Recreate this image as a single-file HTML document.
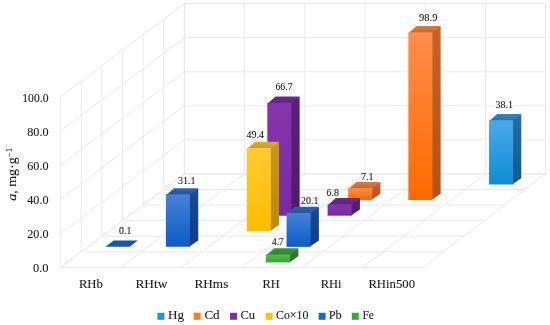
<!DOCTYPE html>
<html><head><meta charset="utf-8"><title>chart</title><style>html,body{margin:0;padding:0;background:#fff}svg{display:block}</style></head><body>
<svg width="550" height="325" viewBox="0 0 550 325">
<defs>
<linearGradient id="Hgfront" x1="0" y1="0" x2="0" y2="1"><stop offset="0" stop-color="#4aa8e8"/><stop offset="1" stop-color="#0f8dd6"/></linearGradient>
<linearGradient id="Hgside" x1="0" y1="0" x2="0" y2="1"><stop offset="0" stop-color="#1f6fa8"/><stop offset="1" stop-color="#155a8c"/></linearGradient>
<linearGradient id="Hgtop" x1="0" y1="0" x2="0" y2="1"><stop offset="0" stop-color="#2f86c4"/><stop offset="1" stop-color="#256fa6"/></linearGradient>
<linearGradient id="Cdfront" x1="0" y1="0" x2="0" y2="1"><stop offset="0" stop-color="#ff8c4a"/><stop offset="1" stop-color="#ff6a00"/></linearGradient>
<linearGradient id="Cdside" x1="0" y1="0" x2="0" y2="1"><stop offset="0" stop-color="#c8622a"/><stop offset="1" stop-color="#b85010"/></linearGradient>
<linearGradient id="Cdtop" x1="0" y1="0" x2="0" y2="1"><stop offset="0" stop-color="#dd783e"/><stop offset="1" stop-color="#cb682e"/></linearGradient>
<linearGradient id="Cufront" x1="0" y1="0" x2="0" y2="1"><stop offset="0" stop-color="#8534ad"/><stop offset="1" stop-color="#7a2aa6"/></linearGradient>
<linearGradient id="Cuside" x1="0" y1="0" x2="0" y2="1"><stop offset="0" stop-color="#5a2078"/><stop offset="1" stop-color="#4f1a6c"/></linearGradient>
<linearGradient id="Cutop" x1="0" y1="0" x2="0" y2="1"><stop offset="0" stop-color="#6c2a90"/><stop offset="1" stop-color="#5e2380"/></linearGradient>
<linearGradient id="Cofront" x1="0" y1="0" x2="0" y2="1"><stop offset="0" stop-color="#ffca32"/><stop offset="1" stop-color="#ffbc00"/></linearGradient>
<linearGradient id="Coside" x1="0" y1="0" x2="0" y2="1"><stop offset="0" stop-color="#c8981a"/><stop offset="1" stop-color="#b88a08"/></linearGradient>
<linearGradient id="Cotop" x1="0" y1="0" x2="0" y2="1"><stop offset="0" stop-color="#e0ac2a"/><stop offset="1" stop-color="#c89a1a"/></linearGradient>
<linearGradient id="Pbfront" x1="0" y1="0" x2="0" y2="1"><stop offset="0" stop-color="#4682d6"/><stop offset="1" stop-color="#0c5cc6"/></linearGradient>
<linearGradient id="Pbside" x1="0" y1="0" x2="0" y2="1"><stop offset="0" stop-color="#164a94"/><stop offset="1" stop-color="#0f3f85"/></linearGradient>
<linearGradient id="Pbtop" x1="0" y1="0" x2="0" y2="1"><stop offset="0" stop-color="#2c62b0"/><stop offset="1" stop-color="#24529a"/></linearGradient>
<linearGradient id="Fefront" x1="0" y1="0" x2="0" y2="1"><stop offset="0" stop-color="#58b856"/><stop offset="1" stop-color="#33a833"/></linearGradient>
<linearGradient id="Feside" x1="0" y1="0" x2="0" y2="1"><stop offset="0" stop-color="#2e7e2e"/><stop offset="1" stop-color="#277027"/></linearGradient>
<linearGradient id="Fetop" x1="0" y1="0" x2="0" y2="1"><stop offset="0" stop-color="#3c923c"/><stop offset="1" stop-color="#2f822f"/></linearGradient>
</defs>
<rect width="550" height="325" fill="#fff"/>
<g stroke="#e7e9ef" stroke-width="1" fill="none" stroke-linecap="round"><line x1="60.60" y1="267.40" x2="60.60" y2="96.90"/><line x1="81.23" y1="251.82" x2="81.23" y2="81.37"/><line x1="101.87" y1="236.23" x2="101.87" y2="65.83"/><line x1="122.50" y1="220.65" x2="122.50" y2="50.30"/><line x1="143.13" y1="205.07" x2="143.13" y2="34.77"/><line x1="163.77" y1="189.48" x2="163.77" y2="19.23"/><line x1="184.40" y1="173.90" x2="184.40" y2="3.70"/><line x1="60.60" y1="267.40" x2="184.40" y2="173.90"/><line x1="60.60" y1="233.30" x2="184.40" y2="139.86"/><line x1="60.60" y1="199.20" x2="184.40" y2="105.82"/><line x1="60.60" y1="165.10" x2="184.40" y2="71.78"/><line x1="60.60" y1="131.00" x2="184.40" y2="37.74"/><line x1="60.60" y1="96.90" x2="184.40" y2="3.70"/><line x1="184.40" y1="173.90" x2="184.40" y2="3.70"/><line x1="244.58" y1="173.90" x2="244.58" y2="3.70"/><line x1="304.77" y1="173.90" x2="304.77" y2="3.70"/><line x1="364.95" y1="173.90" x2="364.95" y2="3.70"/><line x1="425.13" y1="173.90" x2="425.13" y2="3.70"/><line x1="485.32" y1="173.90" x2="485.32" y2="3.70"/><line x1="545.50" y1="173.90" x2="545.50" y2="3.70"/><line x1="184.40" y1="173.90" x2="545.50" y2="173.90"/><line x1="184.40" y1="139.86" x2="545.50" y2="139.86"/><line x1="184.40" y1="105.82" x2="545.50" y2="105.82"/><line x1="184.40" y1="71.78" x2="545.50" y2="71.78"/><line x1="184.40" y1="37.74" x2="545.50" y2="37.74"/><line x1="184.40" y1="3.70" x2="545.50" y2="3.70"/><line x1="60.60" y1="267.40" x2="422.90" y2="267.40"/><line x1="81.23" y1="251.82" x2="443.33" y2="251.82"/><line x1="101.87" y1="236.23" x2="463.77" y2="236.23"/><line x1="122.50" y1="220.65" x2="484.20" y2="220.65"/><line x1="143.13" y1="205.07" x2="504.63" y2="205.07"/><line x1="163.77" y1="189.48" x2="525.07" y2="189.48"/><line x1="184.40" y1="173.90" x2="545.50" y2="173.90"/><line x1="60.60" y1="267.40" x2="184.40" y2="173.90"/><line x1="120.98" y1="267.40" x2="244.58" y2="173.90"/><line x1="181.37" y1="267.40" x2="304.77" y2="173.90"/><line x1="241.75" y1="267.40" x2="364.95" y2="173.90"/><line x1="302.13" y1="267.40" x2="425.13" y2="173.90"/><line x1="362.52" y1="267.40" x2="485.32" y2="173.90"/><line x1="422.90" y1="267.40" x2="545.50" y2="173.90"/></g>
<polygon points="512.13,184.51 521.31,178.27 521.31,114.07 512.13,120.30" fill="url(#Hgside)"/>
<polygon points="489.05,121.30 513.13,121.30 521.31,114.07 497.23,114.07" fill="url(#Hgtop)"/>
<polygon points="489.05,184.51 513.13,184.51 513.13,120.30 489.05,120.30" fill="url(#Hgfront)"/>
<polygon points="371.21,200.09 380.42,193.86 380.42,181.89 371.21,188.12" fill="url(#Cdside)"/>
<polygon points="348.12,189.12 372.21,189.12 380.42,181.89 356.32,181.89" fill="url(#Cdtop)"/>
<polygon points="348.12,200.09 372.21,200.09 372.21,188.12 348.12,188.12" fill="url(#Cdfront)"/>
<polygon points="431.45,200.09 440.64,193.86 440.64,26.11 431.45,32.32" fill="url(#Cdside)"/>
<polygon points="408.36,33.32 432.45,33.32 440.64,26.11 416.55,26.11" fill="url(#Cdtop)"/>
<polygon points="408.36,200.09 432.45,200.09 432.45,32.32 408.36,32.32" fill="url(#Cdfront)"/>
<polygon points="290.43,215.67 299.65,209.44 299.65,96.47 290.43,102.69" fill="url(#Cuside)"/>
<polygon points="267.32,103.69 291.43,103.69 299.65,96.47 275.54,96.47" fill="url(#Cutop)"/>
<polygon points="267.32,215.67 291.43,215.67 291.43,102.69 267.32,102.69" fill="url(#Cufront)"/>
<polygon points="350.70,215.67 359.91,209.44 359.91,197.98 350.70,204.21" fill="url(#Cuside)"/>
<polygon points="327.59,205.21 351.70,205.21 359.91,197.98 335.80,197.98" fill="url(#Cutop)"/>
<polygon points="327.59,215.67 351.70,215.67 351.70,204.21 327.59,204.21" fill="url(#Cufront)"/>
<polygon points="269.88,231.26 279.10,225.02 279.10,141.71 269.88,147.93" fill="url(#Coside)"/>
<polygon points="246.76,148.93 270.88,148.93 279.10,141.71 254.98,141.71" fill="url(#Cotop)"/>
<polygon points="246.76,231.26 270.88,231.26 270.88,147.93 246.76,147.93" fill="url(#Cofront)"/>
<polygon points="128.66,246.84 137.91,240.61 137.91,240.44 128.66,246.67" fill="url(#Pbside)"/>
<polygon points="105.53,246.67 129.66,246.67 137.91,240.44 113.77,240.44" fill="#1458a8"/>
<polygon points="105.53,246.84 129.66,246.84 129.66,246.67 105.53,246.67" fill="url(#Pbfront)"/>
<polygon points="189.00,246.84 198.23,240.61 198.23,188.14 189.00,194.37" fill="url(#Pbside)"/>
<polygon points="165.87,195.37 190.00,195.37 198.23,188.14 174.10,188.14" fill="url(#Pbtop)"/>
<polygon points="165.87,246.84 190.00,246.84 190.00,194.37 165.87,194.37" fill="url(#Pbfront)"/>
<polygon points="309.68,246.84 318.89,240.61 318.89,206.70 309.68,212.93" fill="url(#Pbside)"/>
<polygon points="286.55,213.93 310.68,213.93 318.89,206.70 294.75,206.70" fill="url(#Pbtop)"/>
<polygon points="286.55,246.84 310.68,246.84 310.68,212.93 286.55,212.93" fill="url(#Pbfront)"/>
<polygon points="289.17,262.42 298.38,256.19 298.38,248.26 289.17,254.49" fill="url(#Feside)"/>
<polygon points="266.02,255.49 290.17,255.49 298.38,248.26 274.23,248.26" fill="url(#Fetop)"/>
<polygon points="266.02,262.42 290.17,262.42 290.17,254.49 266.02,254.49" fill="url(#Fefront)"/>
<rect x="157.4" y="312.8" width="7" height="7" fill="#1f97dd"/>
<rect x="193.6" y="312.8" width="7" height="7" fill="#ff7a1a"/>
<rect x="230" y="312.8" width="7" height="7" fill="#7f2da8"/>
<rect x="265.6" y="312.8" width="7" height="7" fill="#ffc000"/>
<rect x="318.6" y="312.8" width="7" height="7" fill="#1f66cc"/>
<rect x="351.8" y="312.8" width="7" height="7" fill="#3aa83a"/>
<g font-family="'Liberation Serif', 'DejaVu Serif', serif" fill="#1c1c1c" stroke="#1c1c1c" stroke-width="0.1"><text x="22.2" y="102.0" font-size="12" text-anchor="start" textLength="26.3" lengthAdjust="spacingAndGlyphs">100.0</text><text x="27.3" y="135.9" font-size="12" text-anchor="start" textLength="21.2" lengthAdjust="spacingAndGlyphs">80.0</text><text x="27.3" y="169.9" font-size="12" text-anchor="start" textLength="21.2" lengthAdjust="spacingAndGlyphs">60.0</text><text x="27.3" y="203.8" font-size="12" text-anchor="start" textLength="21.2" lengthAdjust="spacingAndGlyphs">40.0</text><text x="27.3" y="237.7" font-size="12" text-anchor="start" textLength="21.2" lengthAdjust="spacingAndGlyphs">20.0</text><text x="32.9" y="271.6" font-size="12" text-anchor="start" textLength="15.6" lengthAdjust="spacingAndGlyphs">0.0</text><text x="78.9" y="287.7" font-size="12" text-anchor="start" textLength="24.0" lengthAdjust="spacingAndGlyphs">RHb</text><text x="135.4" y="287.7" font-size="12" text-anchor="start" textLength="31.9" lengthAdjust="spacingAndGlyphs">RHtw</text><text x="194.5" y="287.7" font-size="12" text-anchor="start" textLength="33.8" lengthAdjust="spacingAndGlyphs">RHms</text><text x="262.6" y="287.7" font-size="12" text-anchor="start" textLength="17.2" lengthAdjust="spacingAndGlyphs">RH</text><text x="320.8" y="287.7" font-size="12" text-anchor="start" textLength="20.8" lengthAdjust="spacingAndGlyphs">RHi</text><text x="368.4" y="287.7" font-size="12" text-anchor="start" textLength="46.6" lengthAdjust="spacingAndGlyphs">RHin500</text><text x="419" y="20.6" font-size="10" text-anchor="start" textLength="18.4" lengthAdjust="spacingAndGlyphs">98.9</text><text x="495.6" y="107.7" font-size="10" text-anchor="start" textLength="17.4" lengthAdjust="spacingAndGlyphs">38.1</text><text x="361" y="180.4" font-size="10" text-anchor="start" textLength="12.6" lengthAdjust="spacingAndGlyphs">7.1</text><text x="326.6" y="195.6" font-size="10" text-anchor="start" textLength="12.4" lengthAdjust="spacingAndGlyphs">6.8</text><text x="301" y="203.6" font-size="10" text-anchor="start" textLength="17.4" lengthAdjust="spacingAndGlyphs">20.1</text><text x="272" y="245" font-size="10" text-anchor="start" textLength="11.6" lengthAdjust="spacingAndGlyphs">4.7</text><text x="178" y="183.6" font-size="10" text-anchor="start" textLength="17.6" lengthAdjust="spacingAndGlyphs">31.1</text><text x="119" y="233.7" font-size="10" text-anchor="start" textLength="12.3" lengthAdjust="spacingAndGlyphs">0.1</text><text x="275.4" y="90" font-size="10" text-anchor="start" textLength="17.2" lengthAdjust="spacingAndGlyphs">66.7</text><text x="246.6" y="137.9" font-size="10" text-anchor="start" textLength="17.4" lengthAdjust="spacingAndGlyphs">49.4</text><text x="168" y="319" font-size="12" text-anchor="start" textLength="16.0" lengthAdjust="spacingAndGlyphs">Hg</text><text x="204.4" y="319" font-size="12" text-anchor="start" textLength="15.2" lengthAdjust="spacingAndGlyphs">Cd</text><text x="240.4" y="319" font-size="12" text-anchor="start" textLength="14.6" lengthAdjust="spacingAndGlyphs">Cu</text><text x="276" y="319" font-size="12" text-anchor="start" textLength="32.4" lengthAdjust="spacingAndGlyphs">Co×10</text><text x="328.7" y="319" font-size="12" text-anchor="start" textLength="13.1" lengthAdjust="spacingAndGlyphs">Pb</text><text x="362.4" y="319" font-size="12" text-anchor="start" textLength="11.6" lengthAdjust="spacingAndGlyphs">Fe</text><text transform="translate(16.4,200.8) rotate(-90)" font-size="12.5" textLength="53" lengthAdjust="spacingAndGlyphs"><tspan font-style="italic">a</tspan>, mg·g<tspan font-size="8" dy="-4.5">−1</tspan></text></g>
</svg>
</body></html>
